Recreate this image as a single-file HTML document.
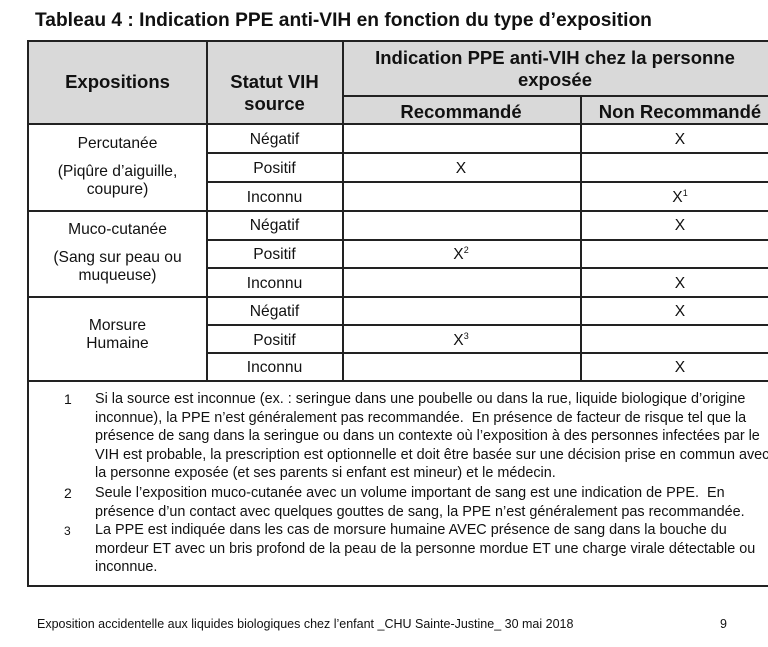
<!DOCTYPE html>
<html><head><meta charset="utf-8"><style>
body{margin:0;width:768px;height:647px;background:#fff;position:relative;overflow:hidden;font-family:"Liberation Sans",Arial,sans-serif;color:#111}
.a{position:absolute}
.h{position:absolute;height:2px;background:#222}
.v{position:absolute;width:2px;background:#222}
.c{position:absolute;text-align:center;font-size:15.6px;line-height:18px;white-space:nowrap}
.b{font-weight:bold;font-size:18.5px;line-height:22px}
.fn{position:absolute;left:95px;font-size:14.4px;line-height:18.6px;width:700px;white-space:nowrap}
.n{position:absolute;left:64px;font-size:14px}
sup{font-size:9px;vertical-align:6px;line-height:0}
</style></head><body>
<div class="a" style="left:35px;top:10px;font-size:19.2px;font-weight:bold;white-space:nowrap">Tableau 4 : Indication PPE anti-VIH en fonction du type d’exposition</div>
<div class="a" style="left:28px;top:41px;width:760px;height:83px;background:#d9d9d9"></div>
<div class="h" style="left:28px;top:40px;width:760px"></div>
<div class="h" style="left:342px;top:95px;width:430px"></div>
<div class="h" style="left:28px;top:123px;width:760px"></div>
<div class="h" style="left:207px;top:152px;width:570px;height:1.5px"></div>
<div class="h" style="left:207px;top:181px;width:570px;height:1.5px"></div>
<div class="h" style="left:28px;top:210px;width:760px"></div>
<div class="h" style="left:207px;top:239px;width:570px;height:1.5px"></div>
<div class="h" style="left:207px;top:267px;width:570px;height:1.5px"></div>
<div class="h" style="left:28px;top:296px;width:760px"></div>
<div class="h" style="left:207px;top:324px;width:570px;height:1.5px"></div>
<div class="h" style="left:207px;top:352px;width:570px;height:1.5px"></div>
<div class="h" style="left:28px;top:380px;width:760px"></div>
<div class="h" style="left:28px;top:585px;width:760px"></div>
<div class="v" style="left:27px;top:40px;height:547px"></div>
<div class="v" style="left:206px;top:40px;height:341px"></div>
<div class="v" style="left:342px;top:40px;height:341px"></div>
<div class="v" style="left:580px;top:96px;height:285px"></div>

<div class="c b" style="left:28px;width:179px;top:71px">Expositions</div>
<div class="c b" style="left:207px;width:135px;top:71px">Statut VIH<br>source</div>
<div class="c b" style="left:342px;width:426px;top:47px">Indication PPE anti-VIH chez la personne<br>exposée</div>
<div class="c b" style="left:342px;width:238px;top:101px">Recommandé</div>
<div class="c b" style="left:580px;width:200px;top:101px">Non Recommandé</div>

<div class="c" style="left:28px;width:179px;top:135px">Percutanée</div>
<div class="c" style="left:28px;width:179px;top:163px">(Piqûre d’aiguille,<br>coupure)</div>
<div class="c" style="left:28px;width:179px;top:221px">Muco-cutanée</div>
<div class="c" style="left:28px;width:179px;top:249px">(Sang sur peau ou<br>muqueuse)</div>
<div class="c" style="left:28px;width:179px;top:317px">Morsure<br>Humaine</div>

<div class="c" style="left:207px;width:135px;top:131px">Négatif</div>
<div class="c" style="left:207px;width:135px;top:160px">Positif</div>
<div class="c" style="left:207px;width:135px;top:189px">Inconnu</div>
<div class="c" style="left:207px;width:135px;top:217px">Négatif</div>
<div class="c" style="left:207px;width:135px;top:246px">Positif</div>
<div class="c" style="left:207px;width:135px;top:275px">Inconnu</div>
<div class="c" style="left:207px;width:135px;top:303px">Négatif</div>
<div class="c" style="left:207px;width:135px;top:332px">Positif</div>
<div class="c" style="left:207px;width:135px;top:359px">Inconnu</div>

<div class="c" style="left:580px;width:200px;top:131px">X</div>
<div class="c" style="left:342px;width:238px;top:160px">X</div>
<div class="c" style="left:580px;width:200px;top:189px">X<sup>1</sup></div>
<div class="c" style="left:580px;width:200px;top:217px">X</div>
<div class="c" style="left:342px;width:238px;top:246px">X<sup>2</sup></div>
<div class="c" style="left:580px;width:200px;top:275px">X</div>
<div class="c" style="left:580px;width:200px;top:303px">X</div>
<div class="c" style="left:342px;width:238px;top:332px">X<sup>3</sup></div>
<div class="c" style="left:580px;width:200px;top:359px">X</div>

<div class="n" style="top:391px">1</div>
<div class="fn" style="top:390px">Si la source est inconnue (ex. : seringue dans une poubelle ou dans la rue, liquide biologique d’origine<br>inconnue), la PPE n’est généralement pas recommandée.&nbsp; En présence de facteur de risque tel que la<br>présence de sang dans la seringue ou dans un contexte où l’exposition à des personnes infectées par le<br>VIH est probable, la prescription est optionnelle et doit être basée sur une décision prise en commun avec<br>la personne exposée (et ses parents si enfant est mineur) et le médecin.</div>
<div class="n" style="top:485px">2</div>
<div class="fn" style="top:484px">Seule l’exposition muco-cutanée avec un volume important de sang est une indication de PPE.&nbsp; En<br>présence d’un contact avec quelques gouttes de sang, la PPE n’est généralement pas recommandée.</div>
<div class="n" style="top:524px;font-size:12px">3</div>
<div class="fn" style="top:521px">La PPE est indiquée dans les cas de morsure humaine AVEC présence de sang dans la bouche du<br>mordeur ET avec un bris profond de la peau de la personne mordue ET une charge virale détectable ou<br>inconnue.</div>

<div class="a" style="left:37px;top:617px;font-size:12.5px">Exposition accidentelle aux liquides biologiques chez l’enfant _CHU Sainte-Justine_ 30 mai 2018</div>
<div class="a" style="left:720px;top:617px;font-size:12.5px">9</div>
</body></html>
